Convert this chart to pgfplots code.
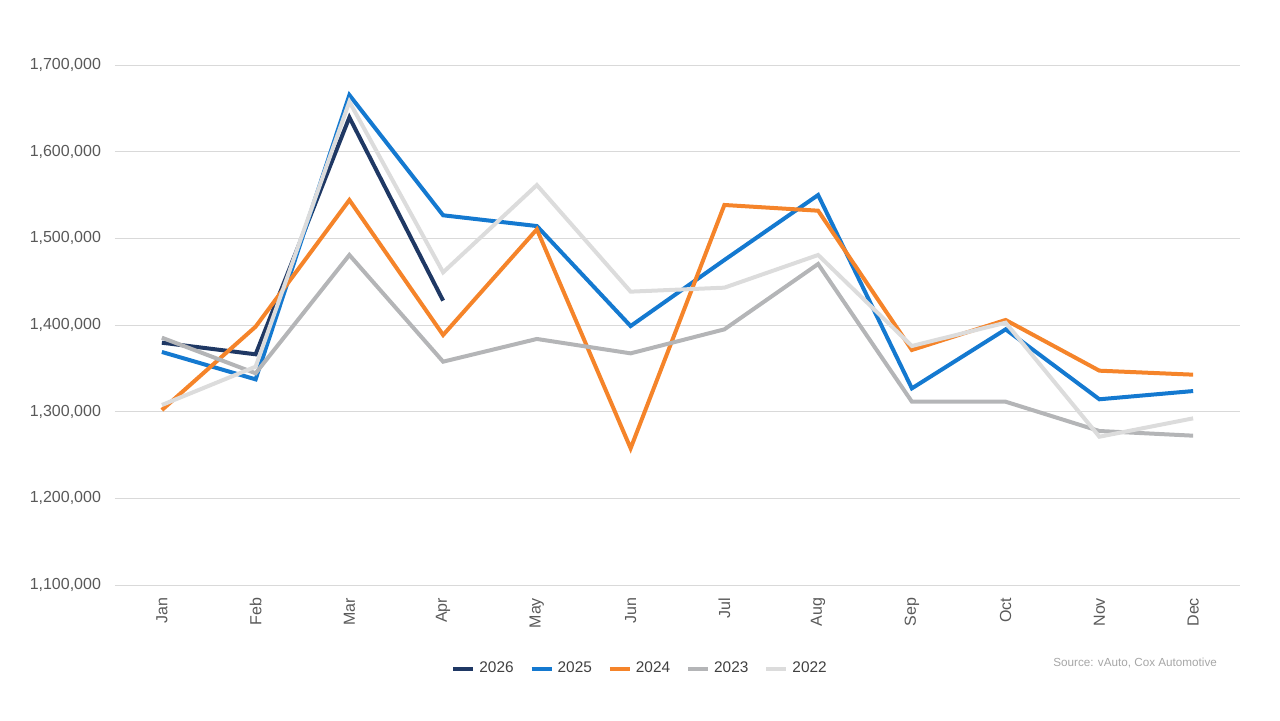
\documentclass[border=0pt]{standalone}
\usepackage{pgfplots}
\pgfplotsset{compat=1.18}
\usepackage{fontspec}
\setmainfont{Liberation Sans}
\definecolor{c26}{HTML}{1F3864}
\definecolor{c25}{HTML}{1479D0}
\definecolor{c24}{HTML}{F5842A}
\definecolor{c23}{HTML}{B4B5B7}
\definecolor{c22}{HTML}{DCDCDC}
\definecolor{ticktxt}{HTML}{595959}
\definecolor{gridc}{HTML}{D9D9D9}
\begin{document}
\begin{tikzpicture}
\path (0,0) rectangle (640pt,360pt);
\begin{axis}[
  at={(57.5pt,67.5pt)}, anchor=south west,
  scale only axis, width=562.5pt, height=260pt,
  xmin=-0.5, xmax=11.5, ymin=1100000, ymax=1700000,
  xtick={0,1,2,3,4,5,6,7,8,9,10,11},
  xticklabels={Jan,Feb,Mar,Apr,May,Jun,Jul,Aug,Sep,Oct,Nov,Dec},
  xticklabel style={rotate=90, anchor=east, font=\fontsize{8}{9}\selectfont, text=ticktxt},
  ytick={1100000,1200000,1300000,1400000,1500000,1600000,1700000},
  yticklabel style={font=\fontsize{8}{9}\selectfont, text=ticktxt},
  /pgf/number format/assume math mode=true,
  scaled y ticks=false,
  yticklabel={\pgfmathprintnumber[fixed, 1000 sep={,}]{\tick}},
  ymajorgrids, grid style={gridc, line width=0.5pt},
  axis line style={draw=none},
  major tick length=0pt,
  axis x line*=bottom, axis y line*=left,
  x axis line style={gridc, line width=0.5pt},
  xticklabel shift=3pt, yticklabel shift=3.5pt,
  legend columns=5,
  legend style={at={(0.4676,-0.1615)}, anchor=center, draw=none, fill=none,
    font=\fontsize{7.7}{9}\selectfont, text=black!75,
    /tikz/every even column/.append style={column sep=6pt}},
  legend image code/.code={\draw[#1, line width=2pt] (0pt,0pt) -- (10pt,0pt);},
  every axis plot/.append style={line width=2pt, line join=miter},
  clip=false,
]
\addplot[c26] coordinates {(0,1379600) (1,1366200) (2,1639600) (3,1428100)};
\addlegendentry{2026}
\addplot[c25] coordinates {(0,1368900) (1,1337300) (2,1665400) (3,1526600) (4,1514200) (5,1398800) (6,1475000) (7,1550000) (8,1326900) (9,1395000) (10,1314300) (11,1323800)};
\addlegendentry{2025}
\addplot[c24] coordinates {(0,1301900) (1,1398100) (2,1544200) (3,1388500) (4,1510400) (5,1257700) (6,1538500) (7,1531900) (8,1371200) (9,1405800) (10,1347300) (11,1342700)};
\addlegendentry{2024}
\addplot[c23] coordinates {(0,1385400) (1,1344300) (2,1480800) (3,1357700) (4,1383900) (5,1367300) (6,1395000) (7,1470400) (8,1311500) (9,1311500) (10,1277700) (11,1272300)};
\addlegendentry{2023}
\addplot[c22] coordinates {(0,1307700) (1,1351900) (2,1657700) (3,1460800) (4,1561500) (5,1438500) (6,1443100) (7,1480800) (8,1375800) (9,1402700) (10,1271100) (11,1292300)};
\addlegendentry{2022}
\node[anchor=east, font=\fontsize{5.85}{7}\selectfont, text=black!35] at (rel axis cs:0.9858,-0.15) {Source: vAuto, Cox Automotive};
\end{axis}
\end{tikzpicture}
\end{document}
